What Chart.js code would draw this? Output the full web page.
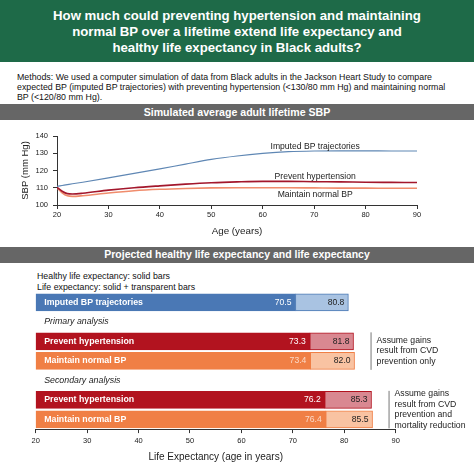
<!DOCTYPE html>
<html><head><meta charset="utf-8">
<script src="https://cdn.jsdelivr.net/npm/chart.js@4.4.1/dist/chart.umd.min.js"></script>
<style>
body{margin:0;background:#fff;font-family:"Liberation Sans",Arial,sans-serif}
#page{position:relative;width:474px;height:474px;overflow:hidden;background:#fff}
.abs{position:absolute}
#head{left:0;top:0;width:474px;height:62px;background:#1e6a48;color:#fff;font-weight:bold;font-size:13.2px;line-height:16px;text-align:center;padding-top:8px;box-sizing:border-box}
#methods{left:17px;top:72px;font-size:8.8px;line-height:10px;color:#111;white-space:nowrap}
.band{left:0;width:474px;background:#666;color:#fff;font-weight:bold;text-align:center;white-space:nowrap}
#band1{top:104px;height:16px;line-height:16px;font-size:10.6px}
#band2{top:247px;height:15.5px;line-height:15.5px;font-size:10.5px}
#legend{left:37px;top:271px;font-size:8.8px;line-height:11.3px;color:#111;white-space:nowrap}
canvas{position:absolute;left:0}
</style></head>
<body>
<div id="page">
  <div id="head" class="abs">How much could preventing hypertension and maintaining<br>normal BP over a lifetime extend life expectancy and<br>healthy life expectancy in Black adults?</div>
  <div id="methods" class="abs">Methods: We used a computer simulation of data from Black adults in the Jackson Heart Study to compare<br>expected BP (imputed BP trajectories) with preventing hypertension (&lt;130/80 mm Hg) and maintaining normal<br>BP (&lt;120/80 mm Hg).</div>
  <div id="band1" class="abs band">Simulated average adult lifetime SBP</div>
  <canvas id="sbp" width="474" height="121" style="top:121px"></canvas>
  <div id="band2" class="abs band">Projected healthy life expectancy and life expectancy</div>
  <div id="legend" class="abs">Healthy life expectancy: solid bars<br>Life expectancy: solid + transparent bars</div>
  <canvas id="le" width="474" height="209" style="top:265px"></canvas>
</div>
<script>
// ---- line chart data
var ages = [20, 21, 22, 23, 25, 30, 35, 40, 45, 50, 55, 60, 65, 70, 75, 80, 85, 90];
var imputedSbp = [110.8, 111.3, 111.8, 112.3, 113.2, 115.7, 118.3, 120.9, 123.7, 126.4, 128.4, 129.9, 130.9, 131.3, 131.4, 131.4, 131.3, 131.3];
var preventSbp = [110.2, 108.0, 106.6, 106.4, 106.8, 108.6, 110.0, 111.1, 112.1, 112.9, 113.4, 113.7, 113.7, 113.5, 113.4, 113.2, 113.1, 113.0];
var normalSbp = [110.0, 107.0, 105.3, 105.0, 105.4, 107.0, 108.3, 109.1, 109.6, 109.9, 110.0, 110.0, 110.0, 109.9, 109.8, 109.8, 109.7, 109.7];
var lineNames = ['Imputed BP trajectories', 'Prevent hypertension', 'Maintain normal BP'];

// ---- bar chart data
var rows = ['Imputed BP trajectories', 'Primary analysis', 'Prevent hypertension', 'Maintain normal BP',
            'Secondary analysis', 'Prevent hypertension', 'Maintain normal BP'];
var healthyLE = [70.5, null, 73.3, 73.4, null, 76.2, 76.4];
var lifeLE = [80.8, null, 81.8, 82.0, null, 85.3, 85.5];
var notes = [
    [[2, 3], ['Assume gains', 'result from CVD', 'prevention only']],
    [[5, 6], ['Assume gains', 'result from CVD', 'prevention and', 'mortality reduction']]
];

Chart.defaults.font.family = '"Liberation Sans", Arial, sans-serif';
Chart.defaults.color = '#222';

function pts(v) {
    return ages.map(function (a, i) { return {x: a, y: v[i]}; });
}

var axisLook = {
    border: {display: true, color: '#333', width: 1},
    grid: {display: true, drawOnChartArea: false, drawTicks: true, tickLength: 4, color: '#333'}
};

var lineLabels = {
    id: 'lineLabels',
    afterDatasetsDraw: function (chart) {
        var ctx = chart.ctx, xs = chart.scales.x, ys = chart.scales.y;
        ctx.save();
        ctx.font = '8.6px "Liberation Sans", Arial';
        ctx.fillStyle = '#222';
        ctx.textAlign = 'center';
        ctx.textBaseline = 'middle';
        chart.data.datasets.forEach(function (ds) {
            ctx.fillText(ds.label, xs.getPixelForValue(ds.labelAt[0]), ys.getPixelForValue(ds.labelAt[1]));
        });
        ctx.restore();
    }
};

new Chart(document.getElementById('sbp'), {
    type: 'line',
    data: {
        datasets: [
            {label: lineNames[0], data: pts(imputedSbp), borderColor: '#5f87b4', borderWidth: 1.2, labelAt: [70.2, 133.9]},
            {label: lineNames[1], data: pts(preventSbp), borderColor: '#a3172c', borderWidth: 1.6, labelAt: [70.2, 116.4]},
            {label: lineNames[2], data: pts(normalSbp), borderColor: '#f08c6c', borderWidth: 1.6, labelAt: [70.2, 106.2]}
        ]
    },
    options: {
        responsive: false,
        animation: false,
        cubicInterpolationMode: 'monotone',
        elements: {point: {radius: 0}},
        layout: {padding: {top: 15, right: 57, left: 0, bottom: 0}},
        plugins: {legend: {display: false}, tooltip: {enabled: false}},
        scales: {
            x: Object.assign({
                type: 'linear', min: 20, max: 90,
                ticks: {stepSize: 10, font: {size: 7.5}, padding: 1, maxRotation: 0},
                title: {display: true, text: 'Age (years)', font: {size: 9.8}, padding: {top: 0, bottom: 4.6}},
                afterFit: function (s) { s.height = 37; }
            }, axisLook),
            y: Object.assign({
                min: 100, max: 140,
                ticks: {stepSize: 10, font: {size: 7.5}, padding: 5},
                title: {display: true, text: 'SBP (mm Hg)', font: {size: 9.5}, padding: {top: 20, bottom: 0}},
                afterFit: function (s) { s.width = 57; }
            }, axisLook)
        }
    },
    plugins: [lineLabels]
});

// ---- bars
var solidCol = ['#4a78b5', null, '#b2131f', '#f07f45', null, '#b2131f', '#f07f45'];
var lightCol = ['#a9c3e2', null, '#d98891', '#f9c3a2', null, '#d98891', '#f9c3a2'];
var valueCol = ['#fff', null, '#fff', 'rgba(255,255,255,0.7)', null, '#fff', 'rgba(255,255,255,0.7)'];

var barText = {
    id: 'barText',
    afterDatasetsDraw: function (chart) {
        var ctx = chart.ctx, ca = chart.chartArea;
        var solid = chart.getDatasetMeta(0).data, light = chart.getDatasetMeta(1).data;
        var ys = chart.scales.y;
        ctx.save();
        ctx.textBaseline = 'middle';
        rows.forEach(function (name, i) {
            var y = ys.getPixelForValue(i);
            if (healthyLE[i] == null) {
                ctx.font = 'italic 8.8px "Liberation Sans", Arial';
                ctx.fillStyle = '#222';
                ctx.textAlign = 'left';
                ctx.fillText(name, ca.left + 8.5, y);
                return;
            }
            ctx.font = 'bold 8.8px "Liberation Sans", Arial';
            ctx.fillStyle = '#fff';
            ctx.textAlign = 'left';
            ctx.fillText(name, ca.left + 8.5, y);
            ctx.font = '8.6px "Liberation Sans", Arial';
            ctx.textAlign = 'right';
            ctx.fillStyle = valueCol[i];
            ctx.fillText(healthyLE[i].toFixed(1), solid[i].x - 4, y);
            ctx.fillStyle = '#222';
            ctx.fillText(lifeLE[i].toFixed(1), light[i].x - 4, y);
        });
        // side notes
        ctx.font = '8.7px "Liberation Sans", Arial';
        ctx.textAlign = 'left';
        notes.forEach(function (n) {
            var a = n[0][0], b = n[0][1];
            var xEnd = Math.max(light[a].x, light[b].x) + 16;
            var top = light[a].y - light[a].height / 2 - 0.5;
            var bot = light[b].y + light[b].height / 2 + 0.5;
            ctx.strokeStyle = '#777';
            ctx.lineWidth = 1;
            ctx.beginPath();
            ctx.moveTo(xEnd + 0.5, top);
            ctx.lineTo(xEnd + 0.5, bot);
            ctx.stroke();
            ctx.fillStyle = '#222';
            var mid = (top + bot) / 2, lh = 10.6;
            n[1].forEach(function (t, k) {
                ctx.fillText(t, xEnd + 6, mid + (k - (n[1].length - 1) / 2) * lh);
            });
        });
        ctx.restore();
    }
};

new Chart(document.getElementById('le'), {
    type: 'bar',
    data: {
        labels: rows,
        datasets: [
            {data: healthyLE.map(function (v) { return v == null ? null : [20, v]; }),
             backgroundColor: solidCol, borderColor: solidCol, borderWidth: 1, grouped: false, borderSkipped: false},
            {data: healthyLE.map(function (v, i) { return v == null ? null : [v, lifeLE[i]]; }),
             backgroundColor: lightCol, borderColor: solidCol, borderWidth: 1, grouped: false, borderSkipped: false}
        ]
    },
    options: {
        indexAxis: 'y',
        responsive: false,
        animation: false,
        barThickness: 17,
        layout: {padding: {top: 27.6, right: 78.3, left: 35.7, bottom: 0}},
        plugins: {legend: {display: false}, tooltip: {enabled: false}},
        scales: {
            y: {display: false},
            x: Object.assign({
                type: 'linear', min: 20, max: 90,
                ticks: {stepSize: 10, font: {size: 7.5}, padding: 3.8, maxRotation: 0},
                title: {display: true, text: 'Life Expectancy (age in years)', font: {size: 10}, padding: {top: 0, bottom: 10.3}},
                afterFit: function (s) { s.height = 44.9; }
            }, axisLook)
        }
    },
    plugins: [barText]
});
</script>
</body></html>
